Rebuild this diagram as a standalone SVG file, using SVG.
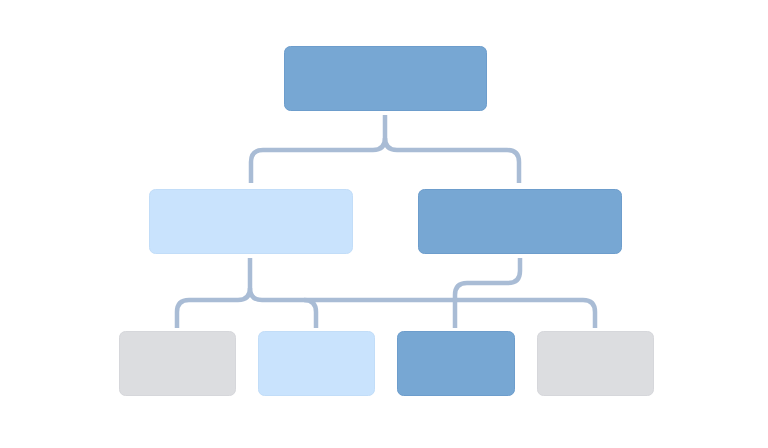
<svg xmlns="http://www.w3.org/2000/svg" width="768" height="448" viewBox="0 0 768 448">
<style>
.n rect{stroke-width:1}
.blue{fill:#77a7d3;stroke:#6d9dcc}
.light{fill:#c9e3fd;stroke:#c2ddf8}
.gray{fill:#dcdde0;stroke:#d6d7db}
.c path{fill:none;stroke:#a9bcd5;stroke-width:4.5;stroke-linecap:butt}
</style>
<rect width="768" height="448" fill="#ffffff"/>
<g class="c" id="connectors">
<path d="M385,115 V138 Q385,150 373,150 H263 Q251,150 251,162 V183"/>
<path d="M385,138 Q385,150 397,150 H507 Q519,150 519,162 V183"/>
<path d="M250,258 V288 Q250,300 238,300 H189 Q177,300 177,312 V328"/>
<path d="M250,288 Q250,300 262,300 H304 Q316,300 316,312 V328"/>
<path d="M304,300 H583 Q595,300 595,312 V328"/>
<path d="M520,258 V271 Q520,283 508,283 H467 Q455,283 455,295 V328"/>
</g>
<g class="n" id="root"><rect class="blue" x="284.5" y="46.5" width="202" height="64" rx="6"/></g>
<g class="n" id="mid-left"><rect class="light" x="149.5" y="189.5" width="203" height="64" rx="6"/></g>
<g class="n" id="mid-right"><rect class="blue" x="418.5" y="189.5" width="203" height="64" rx="6"/></g>
<g class="n" id="leaf-1"><rect class="gray" x="119.5" y="331.5" width="116" height="64" rx="6"/></g>
<g class="n" id="leaf-2"><rect class="light" x="258.5" y="331.5" width="116" height="64" rx="6"/></g>
<g class="n" id="leaf-3"><rect class="blue" x="397.5" y="331.5" width="117" height="64" rx="6"/></g>
<g class="n" id="leaf-4"><rect class="gray" x="537.5" y="331.5" width="116" height="64" rx="6"/></g>
</svg>
